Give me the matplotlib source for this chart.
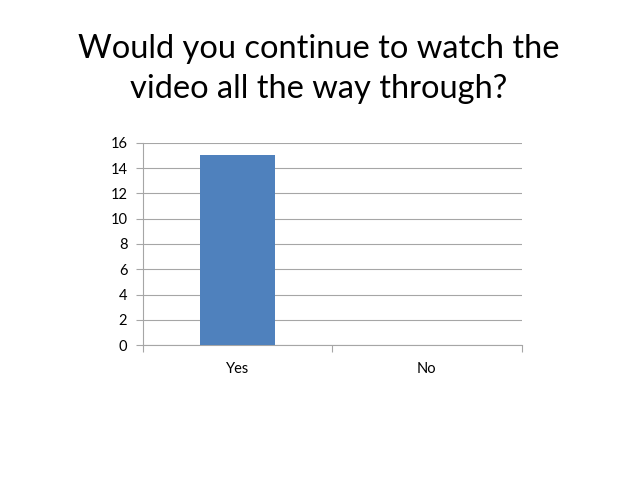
import matplotlib
matplotlib.use("Agg")
import matplotlib.pyplot as plt

categories = ["Yes", "No"]
values = [15, 0]
yticks = [0, 2, 4, 6, 8, 10, 12, 14, 16]
title_lines = ["Would you continue to watch the", "video all the way through?"]

plt.rcParams['font.family'] = ['Lato', 'DejaVu Sans']

fig = plt.figure(figsize=(6.38, 4.78), dpi=100)
ax = fig.add_axes([0.2234, 0.2776, 0.5943, 0.4239])

x = list(range(len(categories)))
ax.bar(x, values, width=0.396, color="#4F81BD", zorder=3)
ax.set_xlim(-0.5, len(categories) - 0.5)
ax.set_ylim(0, 16)
ax.set_yticks(yticks)
ax.set_yticklabels([str(v) for v in yticks], fontsize=10.5)
ax.yaxis.grid(True, color="#A6A6A6", linewidth=0.8, zorder=0)
ax.tick_params(axis="y", length=5, color="#A6A6A6", width=0.8, pad=6)

ax.set_xticks([-0.5, 0.5, 1.5])
ax.set_xticklabels([])
ax.set_xticks(x, minor=True)
ax.set_xticklabels(categories, minor=True, fontsize=10.5)
ax.tick_params(axis="x", which="major", length=5, color="#A6A6A6", width=0.8)
ax.tick_params(axis="x", which="minor", length=0, pad=12)

for s in ["top", "right"]:
    ax.spines[s].set_visible(False)
for s in ["left", "bottom"]:
    ax.spines[s].set_color("#A6A6A6")
    ax.spines[s].set_linewidth(0.8)

fig.text(0.5, 1 - 58 / 478, title_lines[0], ha="center", va="baseline", fontsize=23.5)
fig.text(0.5, 1 - 98 / 478, title_lines[1], ha="center", va="baseline", fontsize=23.5)

fig.savefig("out.png", dpi=100)
